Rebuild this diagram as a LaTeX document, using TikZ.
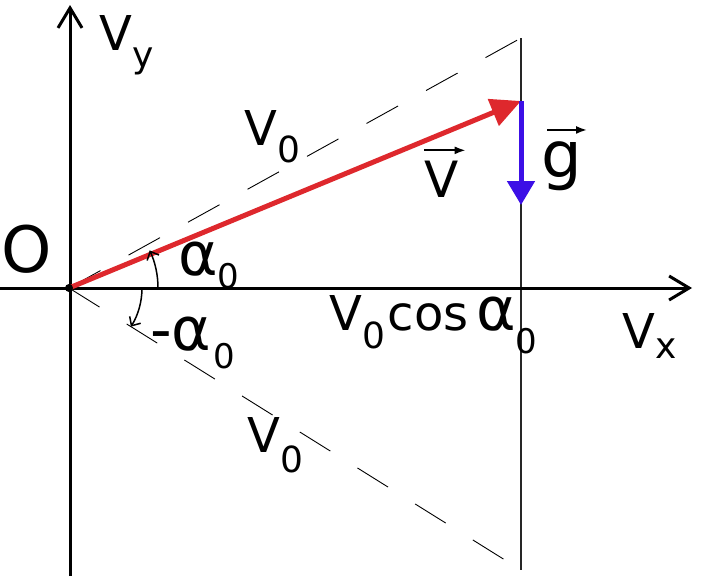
\documentclass[tikz,border=0pt]{standalone}
\usepackage{fontspec}
\setmainfont{DejaVu Sans}
\usetikzlibrary{arrows.meta}
\newcommand\Fs[1]{\fontsize{#1}{#1}\selectfont}
\definecolor{velred}{RGB}{222,40,45}
\definecolor{gblue}{RGB}{60,15,230}
\begin{document}
\begin{tikzpicture}[x=1pt,y=-1pt,
  lbl/.style={inner sep=0pt, anchor=base west, font=\Fs{48}},
  axisline/.style={line width=3pt, -{Straight Barb[length=20pt,width=24pt,line width=3pt]}},
  dashline/.style={line width=0.9pt, dash pattern=on 36pt off 32pt},
  guide/.style={line width=1.3pt, black!85},
  vel/.style={velred, line width=5pt, -{Triangle[length=30pt,width=28pt]}},
  grav/.style={gblue, line width=5pt, -{Triangle[length=24pt,width=27pt]}},
  arcarrow/.style={line width=1.5pt, -{Straight Barb[length=7pt,width=13pt,line width=1.5pt]}},
  vecarrow/.style={line width=1.8pt, -{Latex[length=11pt,width=8pt]}}
]
\useasboundingbox (0,0) rectangle (703,576);
\coordinate (O) at (69,288);
\coordinate (ytop) at (70,5);
\coordinate (ybot) at (70,576);
\coordinate (xl) at (0,288);
\coordinate (xr) at (692,288);
\coordinate (T) at (521,38);
\coordinate (B) at (521,570);
\coordinate (P) at (521,101);
\coordinate (G) at (521,205);
\coordinate (A1) at (158,288);
\coordinate (A2) at (142,288);

% dashed guides and vertical line
\draw[dashline] (O) -- (T);
\draw[dashline] (O) -- (B);
\draw[guide] (T) -- (B);

% axes
\draw[axisline] (ybot) -- (ytop);
\draw[axisline] (xl) -- (xr);

% vectors
\draw[vel] (O) -- (P);
\draw[grav] (P) -- (G);
\fill (O) circle[radius=4pt];

% angle arcs
\draw[arcarrow] (A1) arc[start angle=0, end angle=25, radius=89pt];
\draw[arcarrow] (A2) arc[start angle=0, end angle=-32, radius=73pt];

% labels
\node[lbl, font=\Fs{64}] (o) at (1,272) {O};
\node[lbl] (vy) at (99,50) {V\raisebox{-17pt}{\Fs{36}y}};
\node[lbl] (v0a) at (244,145) {V\raisebox{-17pt}{\Fs{36}0}};
\node[lbl] (v0b) at (247,452) {V\raisebox{-20pt}{\Fs{36}0}};
\node[lbl, font=\Fs{50}] (vv) at (424,197) {V};
\draw[vecarrow] ([yshift=10pt]vv.north west) -- ([xshift=7pt,yshift=10pt]vv.north east);
\node[lbl, font=\Fs{64}] (g) at (541,177) {g};
\draw[vecarrow] ([xshift=6pt,yshift=11pt]g.north west) -- ([xshift=5pt,yshift=11pt]g.north east);
\node[lbl] (a0) at (178,275) {{\Fs{60}α}\raisebox{-13pt}{\Fs{34}0}};
\node[lbl] (ma0) at (150,350) {{\Fs{60}-α}\kern2pt\raisebox{-18pt}{\Fs{34}0}};
\node[lbl] (vc) at (329,330) {V\raisebox{-18pt}{\Fs{36}0}\hspace{3pt}cos\hspace{7.5pt}{\Fs{60}α}\raisebox{-23pt}{\Fs{34}0}};
\node[lbl] (vx) at (622,348) {V\raisebox{-10pt}{\Fs{36}x}};
\end{tikzpicture}
\end{document}
